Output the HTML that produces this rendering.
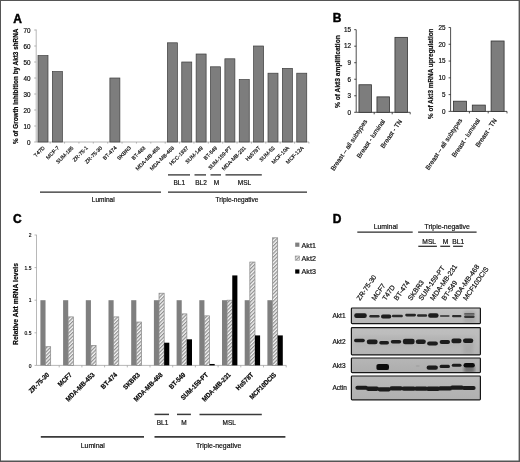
<!DOCTYPE html>
<html lang="en">
<head>
<meta charset="utf-8">
<title>Akt3 figure</title>
<style>
html,body{margin:0;padding:0;background:#fff;}
body{width:520px;height:462px;overflow:hidden;font-family:"Liberation Sans", Arial, Helvetica, sans-serif;}
svg{display:block;font-family:"Liberation Sans", Arial, Helvetica, sans-serif;}
svg text{stroke:#111;stroke-width:0.2px;}
</style>
</head>
<body>
<svg width="520" height="462" viewBox="0 0 520 462">
<defs>
<pattern id="hatch" patternUnits="userSpaceOnUse" width="2.6" height="2.6" patternTransform="rotate(-45)">
<rect width="2.6" height="2.6" fill="#f6f6f6"/>
<rect width="2.6" height="1.2" fill="#8e8e8e"/>
</pattern>
<filter id="blur" x="-5%" y="-20%" width="110%" height="140%"><feGaussianBlur stdDeviation="0.75"/></filter>
<filter id="blur2" x="-10%" y="-20%" width="120%" height="140%"><feGaussianBlur stdDeviation="1.6"/></filter>
<linearGradient id="bg1" x1="0" y1="0" x2="0" y2="1"><stop offset="0" stop-color="#c2c2c2"/><stop offset="1" stop-color="#b6b6b6"/></linearGradient>
<linearGradient id="bg2" x1="0" y1="0" x2="0" y2="1"><stop offset="0" stop-color="#bfbfbf"/><stop offset="1" stop-color="#b4b4b4"/></linearGradient>
<linearGradient id="bg3" x1="0" y1="0" x2="0" y2="1"><stop offset="0" stop-color="#b6b6b6"/><stop offset="1" stop-color="#adadad"/></linearGradient>
<linearGradient id="bg4" x1="0" y1="0" x2="0" y2="1"><stop offset="0" stop-color="#bababa"/><stop offset="1" stop-color="#b0b0b0"/></linearGradient>
</defs>
<rect x="0" y="0" width="520" height="462" fill="#fff"/>
<g id="panelA">
<text x="13.20" y="22.90" font-size="12" text-anchor="start" font-weight="700" fill="#000" style="stroke:#000;stroke-width:0.45px">A</text>
<line x1="36.20" y1="29.50" x2="36.20" y2="142.00" stroke="#999" stroke-width="0.7"/>
<line x1="36.20" y1="142.00" x2="309.00" y2="142.00" stroke="#999" stroke-width="0.7"/>
<line x1="34.20" y1="142.00" x2="36.20" y2="142.00" stroke="#999" stroke-width="0.7"/>
<text x="30.60" y="144.50" font-size="6.3" text-anchor="end" fill="#111">0</text>
<line x1="34.20" y1="126.00" x2="36.20" y2="126.00" stroke="#999" stroke-width="0.7"/>
<text x="30.60" y="128.50" font-size="6.3" text-anchor="end" fill="#111">10</text>
<line x1="34.20" y1="110.00" x2="36.20" y2="110.00" stroke="#999" stroke-width="0.7"/>
<text x="30.60" y="112.50" font-size="6.3" text-anchor="end" fill="#111">20</text>
<line x1="34.20" y1="94.00" x2="36.20" y2="94.00" stroke="#999" stroke-width="0.7"/>
<text x="30.60" y="96.50" font-size="6.3" text-anchor="end" fill="#111">30</text>
<line x1="34.20" y1="78.00" x2="36.20" y2="78.00" stroke="#999" stroke-width="0.7"/>
<text x="30.60" y="80.50" font-size="6.3" text-anchor="end" fill="#111">40</text>
<line x1="34.20" y1="62.00" x2="36.20" y2="62.00" stroke="#999" stroke-width="0.7"/>
<text x="30.60" y="64.50" font-size="6.3" text-anchor="end" fill="#111">50</text>
<line x1="34.20" y1="46.00" x2="36.20" y2="46.00" stroke="#999" stroke-width="0.7"/>
<text x="30.60" y="48.50" font-size="6.3" text-anchor="end" fill="#111">60</text>
<line x1="34.20" y1="30.00" x2="36.20" y2="30.00" stroke="#999" stroke-width="0.7"/>
<text x="30.60" y="32.50" font-size="6.3" text-anchor="end" fill="#111">70</text>
<text x="18.00" y="86.30" font-size="6.37" text-anchor="middle" font-weight="700" fill="#000" transform="rotate(-90 18.00 86.30)">% of Growth inhibition by Akt3 shRNA</text>
<rect x="38.00" y="55.60" width="10.00" height="86.40" fill="#7d7d7d" stroke="#3c3c3c" stroke-width="0.7"/>
<text x="45.20" y="148.30" font-size="5.25" text-anchor="end" fill="#111" transform="rotate(-45 45.20 148.30)">T47D</text>
<line x1="50.19" y1="142.00" x2="50.19" y2="143.60" stroke="#999" stroke-width="0.7"/>
<rect x="52.38" y="71.60" width="10.00" height="70.40" fill="#7d7d7d" stroke="#3c3c3c" stroke-width="0.7"/>
<text x="59.58" y="148.30" font-size="5.25" text-anchor="end" fill="#111" transform="rotate(-45 59.58 148.30)">MCF-7</text>
<line x1="64.56" y1="142.00" x2="64.56" y2="143.60" stroke="#999" stroke-width="0.7"/>
<text x="73.95" y="148.30" font-size="5.25" text-anchor="end" fill="#111" transform="rotate(-45 73.95 148.30)">SUM-185</text>
<line x1="78.94" y1="142.00" x2="78.94" y2="143.60" stroke="#999" stroke-width="0.7"/>
<text x="88.33" y="148.30" font-size="5.25" text-anchor="end" fill="#111" transform="rotate(-45 88.33 148.30)">ZR-75-1</text>
<line x1="93.31" y1="142.00" x2="93.31" y2="143.60" stroke="#999" stroke-width="0.7"/>
<text x="102.70" y="148.30" font-size="5.25" text-anchor="end" fill="#111" transform="rotate(-45 102.70 148.30)">ZR-75-30</text>
<line x1="107.69" y1="142.00" x2="107.69" y2="143.60" stroke="#999" stroke-width="0.7"/>
<rect x="109.88" y="78.00" width="10.00" height="64.00" fill="#7d7d7d" stroke="#3c3c3c" stroke-width="0.7"/>
<text x="117.08" y="148.30" font-size="5.25" text-anchor="end" fill="#111" transform="rotate(-45 117.08 148.30)">BT-474</text>
<line x1="122.06" y1="142.00" x2="122.06" y2="143.60" stroke="#999" stroke-width="0.7"/>
<text x="131.45" y="148.30" font-size="5.25" text-anchor="end" fill="#111" transform="rotate(-45 131.45 148.30)">SKBR3</text>
<line x1="136.44" y1="142.00" x2="136.44" y2="143.60" stroke="#999" stroke-width="0.7"/>
<text x="145.82" y="148.30" font-size="5.25" text-anchor="end" fill="#111" transform="rotate(-45 145.82 148.30)">BT-483</text>
<line x1="150.81" y1="142.00" x2="150.81" y2="143.60" stroke="#999" stroke-width="0.7"/>
<text x="160.20" y="148.30" font-size="5.25" text-anchor="end" fill="#111" transform="rotate(-45 160.20 148.30)">MDA-MB-453</text>
<line x1="165.19" y1="142.00" x2="165.19" y2="143.60" stroke="#999" stroke-width="0.7"/>
<rect x="167.38" y="42.80" width="10.00" height="99.20" fill="#7d7d7d" stroke="#3c3c3c" stroke-width="0.7"/>
<text x="174.57" y="148.30" font-size="5.25" text-anchor="end" fill="#111" transform="rotate(-45 174.57 148.30)">MDA-MB-468</text>
<line x1="179.56" y1="142.00" x2="179.56" y2="143.60" stroke="#999" stroke-width="0.7"/>
<rect x="181.75" y="62.00" width="10.00" height="80.00" fill="#7d7d7d" stroke="#3c3c3c" stroke-width="0.7"/>
<text x="188.95" y="148.30" font-size="5.25" text-anchor="end" fill="#111" transform="rotate(-45 188.95 148.30)">HCC-1937</text>
<line x1="193.94" y1="142.00" x2="193.94" y2="143.60" stroke="#999" stroke-width="0.7"/>
<rect x="196.12" y="54.00" width="10.00" height="88.00" fill="#7d7d7d" stroke="#3c3c3c" stroke-width="0.7"/>
<text x="203.32" y="148.30" font-size="5.25" text-anchor="end" fill="#111" transform="rotate(-45 203.32 148.30)">SUM-149</text>
<line x1="208.31" y1="142.00" x2="208.31" y2="143.60" stroke="#999" stroke-width="0.7"/>
<rect x="210.50" y="66.80" width="10.00" height="75.20" fill="#7d7d7d" stroke="#3c3c3c" stroke-width="0.7"/>
<text x="217.70" y="148.30" font-size="5.25" text-anchor="end" fill="#111" transform="rotate(-45 217.70 148.30)">BT-549</text>
<line x1="222.69" y1="142.00" x2="222.69" y2="143.60" stroke="#999" stroke-width="0.7"/>
<rect x="224.88" y="58.80" width="10.00" height="83.20" fill="#7d7d7d" stroke="#3c3c3c" stroke-width="0.7"/>
<text x="232.07" y="148.30" font-size="5.25" text-anchor="end" fill="#111" transform="rotate(-45 232.07 148.30)">SUM-159-PT</text>
<line x1="237.06" y1="142.00" x2="237.06" y2="143.60" stroke="#999" stroke-width="0.7"/>
<rect x="239.25" y="79.60" width="10.00" height="62.40" fill="#7d7d7d" stroke="#3c3c3c" stroke-width="0.7"/>
<text x="246.45" y="148.30" font-size="5.25" text-anchor="end" fill="#111" transform="rotate(-45 246.45 148.30)">MDA-MB-231</text>
<line x1="251.44" y1="142.00" x2="251.44" y2="143.60" stroke="#999" stroke-width="0.7"/>
<rect x="253.62" y="46.00" width="10.00" height="96.00" fill="#7d7d7d" stroke="#3c3c3c" stroke-width="0.7"/>
<text x="260.82" y="148.30" font-size="5.25" text-anchor="end" fill="#111" transform="rotate(-45 260.82 148.30)">Hs578T</text>
<line x1="265.81" y1="142.00" x2="265.81" y2="143.60" stroke="#999" stroke-width="0.7"/>
<rect x="268.00" y="73.20" width="10.00" height="68.80" fill="#7d7d7d" stroke="#3c3c3c" stroke-width="0.7"/>
<text x="275.20" y="148.30" font-size="5.25" text-anchor="end" fill="#111" transform="rotate(-45 275.20 148.30)">SUM-52</text>
<line x1="280.19" y1="142.00" x2="280.19" y2="143.60" stroke="#999" stroke-width="0.7"/>
<rect x="282.38" y="68.40" width="10.00" height="73.60" fill="#7d7d7d" stroke="#3c3c3c" stroke-width="0.7"/>
<text x="289.57" y="148.30" font-size="5.25" text-anchor="end" fill="#111" transform="rotate(-45 289.57 148.30)">MCF-10A</text>
<line x1="294.56" y1="142.00" x2="294.56" y2="143.60" stroke="#999" stroke-width="0.7"/>
<rect x="296.75" y="73.20" width="10.00" height="68.80" fill="#7d7d7d" stroke="#3c3c3c" stroke-width="0.7"/>
<text x="303.95" y="148.30" font-size="5.25" text-anchor="end" fill="#111" transform="rotate(-45 303.95 148.30)">MCF-12A</text>
<line x1="308.94" y1="142.00" x2="308.94" y2="143.60" stroke="#999" stroke-width="0.7"/>
<line x1="40.00" y1="192.10" x2="161.00" y2="192.10" stroke="#2a2a2a" stroke-width="1.25"/>
<text x="103.20" y="201.80" font-size="6.5" text-anchor="middle" fill="#111">Luminal</text>
<line x1="168.00" y1="192.10" x2="307.00" y2="192.10" stroke="#2a2a2a" stroke-width="1.25"/>
<text x="237.00" y="201.80" font-size="6.5" text-anchor="middle" fill="#111">Triple-negative</text>
<line x1="168.00" y1="174.90" x2="190.00" y2="174.90" stroke="#2a2a2a" stroke-width="1.25"/>
<text x="179.30" y="184.90" font-size="6.5" text-anchor="middle" fill="#111">BL1</text>
<line x1="194.50" y1="174.90" x2="206.00" y2="174.90" stroke="#2a2a2a" stroke-width="1.25"/>
<text x="201.00" y="184.90" font-size="6.5" text-anchor="middle" fill="#111">BL2</text>
<line x1="210.50" y1="174.90" x2="221.00" y2="174.90" stroke="#2a2a2a" stroke-width="1.25"/>
<text x="216.50" y="184.90" font-size="6.5" text-anchor="middle" fill="#111">M</text>
<line x1="225.50" y1="174.90" x2="261.80" y2="174.90" stroke="#2a2a2a" stroke-width="1.25"/>
<text x="244.50" y="184.90" font-size="6.5" text-anchor="middle" fill="#111">MSL</text>
</g>
<g id="panelB">
<text x="332.80" y="21.90" font-size="12" text-anchor="start" font-weight="700" fill="#000" style="stroke:#000;stroke-width:0.45px">B</text>
<line x1="356.20" y1="29.70" x2="356.20" y2="112.30" stroke="#222" stroke-width="0.8"/>
<line x1="356.20" y1="112.30" x2="410.20" y2="112.30" stroke="#222" stroke-width="0.8"/>
<line x1="354.20" y1="112.30" x2="356.20" y2="112.30" stroke="#222" stroke-width="0.8"/>
<text x="351.00" y="114.60" font-size="6.3" text-anchor="end" fill="#111">0</text>
<line x1="354.20" y1="95.77" x2="356.20" y2="95.77" stroke="#222" stroke-width="0.8"/>
<text x="351.00" y="98.07" font-size="6.3" text-anchor="end" fill="#111">3</text>
<line x1="354.20" y1="79.24" x2="356.20" y2="79.24" stroke="#222" stroke-width="0.8"/>
<text x="351.00" y="81.54" font-size="6.3" text-anchor="end" fill="#111">6</text>
<line x1="354.20" y1="62.71" x2="356.20" y2="62.71" stroke="#222" stroke-width="0.8"/>
<text x="351.00" y="65.01" font-size="6.3" text-anchor="end" fill="#111">9</text>
<line x1="354.20" y1="46.18" x2="356.20" y2="46.18" stroke="#222" stroke-width="0.8"/>
<text x="351.00" y="48.48" font-size="6.3" text-anchor="end" fill="#111">12</text>
<line x1="354.20" y1="29.65" x2="356.20" y2="29.65" stroke="#222" stroke-width="0.8"/>
<text x="351.00" y="31.95" font-size="6.3" text-anchor="end" fill="#111">15</text>
<line x1="374.20" y1="112.30" x2="374.20" y2="114.30" stroke="#222" stroke-width="0.8"/>
<line x1="392.20" y1="112.30" x2="392.20" y2="114.30" stroke="#222" stroke-width="0.8"/>
<line x1="410.20" y1="112.30" x2="410.20" y2="114.30" stroke="#222" stroke-width="0.8"/>
<rect x="358.95" y="84.75" width="12.50" height="27.55" fill="#7d7d7d" stroke="#333" stroke-width="0.8"/>
<text x="367.70" y="121.30" font-size="6.5" text-anchor="end" fill="#111" transform="rotate(-56 367.70 121.30)">Breast – all subtypes</text>
<rect x="376.95" y="96.87" width="12.50" height="15.43" fill="#7d7d7d" stroke="#333" stroke-width="0.8"/>
<text x="385.30" y="121.30" font-size="6.5" text-anchor="end" fill="#111" transform="rotate(-56 385.30 121.30)">Breast - luminal</text>
<rect x="394.95" y="37.36" width="12.50" height="74.94" fill="#7d7d7d" stroke="#333" stroke-width="0.8"/>
<text x="402.30" y="121.30" font-size="6.5" text-anchor="end" fill="#111" transform="rotate(-56 402.30 121.30)">Breast - TN</text>
<text x="340.20" y="71.60" font-size="6.65" text-anchor="middle" font-weight="700" fill="#111" transform="rotate(-90 340.20 71.60)">% of Akt3 amplification</text>
<line x1="450.60" y1="27.50" x2="450.60" y2="111.40" stroke="#222" stroke-width="0.8"/>
<line x1="450.60" y1="111.40" x2="507.00" y2="111.40" stroke="#222" stroke-width="0.8"/>
<line x1="448.60" y1="111.40" x2="450.60" y2="111.40" stroke="#222" stroke-width="0.8"/>
<text x="445.40" y="113.70" font-size="6.3" text-anchor="end" fill="#111">0</text>
<line x1="448.60" y1="94.62" x2="450.60" y2="94.62" stroke="#222" stroke-width="0.8"/>
<text x="445.40" y="96.92" font-size="6.3" text-anchor="end" fill="#111">5</text>
<line x1="448.60" y1="77.84" x2="450.60" y2="77.84" stroke="#222" stroke-width="0.8"/>
<text x="445.40" y="80.14" font-size="6.3" text-anchor="end" fill="#111">10</text>
<line x1="448.60" y1="61.06" x2="450.60" y2="61.06" stroke="#222" stroke-width="0.8"/>
<text x="445.40" y="63.36" font-size="6.3" text-anchor="end" fill="#111">15</text>
<line x1="448.60" y1="44.28" x2="450.60" y2="44.28" stroke="#222" stroke-width="0.8"/>
<text x="445.40" y="46.58" font-size="6.3" text-anchor="end" fill="#111">20</text>
<line x1="448.60" y1="27.50" x2="450.60" y2="27.50" stroke="#222" stroke-width="0.8"/>
<text x="445.40" y="29.80" font-size="6.3" text-anchor="end" fill="#111">25</text>
<line x1="469.40" y1="111.40" x2="469.40" y2="113.40" stroke="#222" stroke-width="0.8"/>
<line x1="488.20" y1="111.40" x2="488.20" y2="113.40" stroke="#222" stroke-width="0.8"/>
<line x1="507.00" y1="111.40" x2="507.00" y2="113.40" stroke="#222" stroke-width="0.8"/>
<rect x="453.50" y="101.20" width="13.00" height="10.20" fill="#7d7d7d" stroke="#333" stroke-width="0.8"/>
<text x="462.50" y="120.40" font-size="6.5" text-anchor="end" fill="#111" transform="rotate(-56 462.50 120.40)">Breast – all subtypes</text>
<rect x="472.30" y="105.09" width="13.00" height="6.31" fill="#7d7d7d" stroke="#333" stroke-width="0.8"/>
<text x="480.30" y="120.40" font-size="6.5" text-anchor="end" fill="#111" transform="rotate(-56 480.30 120.40)">Breast - luminal</text>
<rect x="491.10" y="40.99" width="13.00" height="70.41" fill="#7d7d7d" stroke="#333" stroke-width="0.8"/>
<text x="497.20" y="120.40" font-size="6.5" text-anchor="end" fill="#111" transform="rotate(-56 497.20 120.40)">Breast - TN</text>
<text x="433.20" y="73.70" font-size="6.4" text-anchor="middle" font-weight="700" fill="#111" transform="rotate(-90 433.20 73.70)">% of Akt3 mRNA upregulation</text>
</g>
<g id="panelC">
<text x="13.00" y="222.90" font-size="12" text-anchor="start" font-weight="700" fill="#000" style="stroke:#000;stroke-width:0.45px">C</text>
<line x1="36.50" y1="234.80" x2="36.50" y2="365.40" stroke="#999" stroke-width="0.7"/>
<line x1="36.50" y1="365.40" x2="286.30" y2="365.40" stroke="#999" stroke-width="0.7"/>
<line x1="34.50" y1="365.40" x2="36.50" y2="365.40" stroke="#999" stroke-width="0.7"/>
<text x="31.50" y="367.60" font-size="5.4" text-anchor="end" fill="#111" transform="translate(31.50 367.60) scale(0.92 1) translate(-31.50 -367.60)">0</text>
<line x1="34.50" y1="332.80" x2="36.50" y2="332.80" stroke="#999" stroke-width="0.7"/>
<text x="31.50" y="335.00" font-size="5.4" text-anchor="end" fill="#111" transform="translate(31.50 335.00) scale(0.92 1) translate(-31.50 -335.00)">0.5</text>
<line x1="34.50" y1="300.20" x2="36.50" y2="300.20" stroke="#999" stroke-width="0.7"/>
<text x="31.50" y="302.40" font-size="5.4" text-anchor="end" fill="#111" transform="translate(31.50 302.40) scale(0.92 1) translate(-31.50 -302.40)">1</text>
<line x1="34.50" y1="267.60" x2="36.50" y2="267.60" stroke="#999" stroke-width="0.7"/>
<text x="31.50" y="269.80" font-size="5.4" text-anchor="end" fill="#111" transform="translate(31.50 269.80) scale(0.92 1) translate(-31.50 -269.80)">1.5</text>
<line x1="34.50" y1="235.00" x2="36.50" y2="235.00" stroke="#999" stroke-width="0.7"/>
<text x="31.50" y="237.20" font-size="5.4" text-anchor="end" fill="#111" transform="translate(31.50 237.20) scale(0.92 1) translate(-31.50 -237.20)">2</text>
<text x="18.40" y="304.00" font-size="6.8" text-anchor="middle" font-weight="700" fill="#000" transform="rotate(-90 18.40 304.00)">Relative Akt mRNA levels</text>
<line x1="59.20" y1="365.40" x2="59.20" y2="367.40" stroke="#999" stroke-width="0.7"/>
<rect x="40.40" y="300.20" width="5.13" height="65.20" fill="#7f7f7f"/>
<rect x="45.53" y="346.69" width="5.13" height="18.71" fill="url(#hatch)" stroke="#8c8c8c" stroke-width="0.75"/>
<text x="49.70" y="375.30" font-size="6.8" text-anchor="end" font-weight="700" fill="#000" transform="rotate(-45 49.70 375.30) translate(49.70 375.30) scale(0.9 1) translate(-49.70 -375.30)">ZR-75-30</text>
<line x1="81.90" y1="365.40" x2="81.90" y2="367.40" stroke="#999" stroke-width="0.7"/>
<rect x="63.10" y="300.20" width="5.13" height="65.20" fill="#7f7f7f"/>
<rect x="68.23" y="316.89" width="5.13" height="48.51" fill="url(#hatch)" stroke="#8c8c8c" stroke-width="0.75"/>
<text x="72.39" y="375.30" font-size="6.8" text-anchor="end" font-weight="700" fill="#000" transform="rotate(-45 72.39 375.30) translate(72.39 375.30) scale(0.9 1) translate(-72.39 -375.30)">MCF7</text>
<line x1="104.60" y1="365.40" x2="104.60" y2="367.40" stroke="#999" stroke-width="0.7"/>
<rect x="85.80" y="300.20" width="5.13" height="65.20" fill="#7f7f7f"/>
<rect x="90.93" y="345.38" width="5.13" height="20.02" fill="url(#hatch)" stroke="#8c8c8c" stroke-width="0.75"/>
<text x="95.09" y="375.30" font-size="6.8" text-anchor="end" font-weight="700" fill="#000" transform="rotate(-45 95.09 375.30) translate(95.09 375.30) scale(0.9 1) translate(-95.09 -375.30)">MDA-MB-453</text>
<line x1="127.30" y1="365.40" x2="127.30" y2="367.40" stroke="#999" stroke-width="0.7"/>
<rect x="108.50" y="300.20" width="5.13" height="65.20" fill="#7f7f7f"/>
<rect x="113.63" y="316.89" width="5.13" height="48.51" fill="url(#hatch)" stroke="#8c8c8c" stroke-width="0.75"/>
<text x="117.79" y="375.30" font-size="6.8" text-anchor="end" font-weight="700" fill="#000" transform="rotate(-45 117.79 375.30) translate(117.79 375.30) scale(0.9 1) translate(-117.79 -375.30)">BT-474</text>
<line x1="150.00" y1="365.40" x2="150.00" y2="367.40" stroke="#999" stroke-width="0.7"/>
<rect x="131.20" y="300.20" width="5.13" height="65.20" fill="#7f7f7f"/>
<rect x="136.33" y="322.04" width="5.13" height="43.36" fill="url(#hatch)" stroke="#8c8c8c" stroke-width="0.75"/>
<text x="140.49" y="375.30" font-size="6.8" text-anchor="end" font-weight="700" fill="#000" transform="rotate(-45 140.49 375.30) translate(140.49 375.30) scale(0.9 1) translate(-140.49 -375.30)">SKBR3</text>
<line x1="172.70" y1="365.40" x2="172.70" y2="367.40" stroke="#999" stroke-width="0.7"/>
<rect x="153.90" y="300.20" width="5.13" height="65.20" fill="#7f7f7f"/>
<rect x="159.03" y="293.22" width="5.13" height="72.18" fill="url(#hatch)" stroke="#8c8c8c" stroke-width="0.75"/>
<rect x="164.16" y="342.71" width="5.13" height="22.69" fill="#000"/>
<text x="163.19" y="375.30" font-size="6.8" text-anchor="end" font-weight="700" fill="#000" transform="rotate(-45 163.19 375.30) translate(163.19 375.30) scale(0.9 1) translate(-163.19 -375.30)">MDA-MB-468</text>
<line x1="195.40" y1="365.40" x2="195.40" y2="367.40" stroke="#999" stroke-width="0.7"/>
<rect x="176.60" y="300.20" width="5.13" height="65.20" fill="#7f7f7f"/>
<rect x="181.73" y="313.89" width="5.13" height="51.51" fill="url(#hatch)" stroke="#8c8c8c" stroke-width="0.75"/>
<rect x="186.86" y="339.32" width="5.13" height="26.08" fill="#000"/>
<text x="185.89" y="375.30" font-size="6.8" text-anchor="end" font-weight="700" fill="#000" transform="rotate(-45 185.89 375.30) translate(185.89 375.30) scale(0.9 1) translate(-185.89 -375.30)">BT-549</text>
<line x1="218.10" y1="365.40" x2="218.10" y2="367.40" stroke="#999" stroke-width="0.7"/>
<rect x="199.30" y="300.20" width="5.13" height="65.20" fill="#7f7f7f"/>
<rect x="204.43" y="315.85" width="5.13" height="49.55" fill="url(#hatch)" stroke="#8c8c8c" stroke-width="0.75"/>
<rect x="209.56" y="363.97" width="5.13" height="1.43" fill="#000"/>
<text x="208.59" y="375.30" font-size="6.8" text-anchor="end" font-weight="700" fill="#000" transform="rotate(-45 208.59 375.30) translate(208.59 375.30) scale(0.9 1) translate(-208.59 -375.30)">SUM-159-PT</text>
<line x1="240.80" y1="365.40" x2="240.80" y2="367.40" stroke="#999" stroke-width="0.7"/>
<rect x="222.00" y="300.20" width="5.13" height="65.20" fill="#7f7f7f"/>
<rect x="227.13" y="300.20" width="5.13" height="65.20" fill="url(#hatch)" stroke="#8c8c8c" stroke-width="0.75"/>
<rect x="232.26" y="275.42" width="5.13" height="89.98" fill="#000"/>
<text x="231.29" y="375.30" font-size="6.8" text-anchor="end" font-weight="700" fill="#000" transform="rotate(-45 231.29 375.30) translate(231.29 375.30) scale(0.9 1) translate(-231.29 -375.30)">MDA-MB-231</text>
<line x1="263.50" y1="365.40" x2="263.50" y2="367.40" stroke="#999" stroke-width="0.7"/>
<rect x="244.70" y="300.20" width="5.13" height="65.20" fill="#7f7f7f"/>
<rect x="249.83" y="262.06" width="5.13" height="103.34" fill="url(#hatch)" stroke="#8c8c8c" stroke-width="0.75"/>
<rect x="254.96" y="335.41" width="5.13" height="29.99" fill="#000"/>
<text x="253.99" y="375.30" font-size="6.8" text-anchor="end" font-weight="700" fill="#000" transform="rotate(-45 253.99 375.30) translate(253.99 375.30) scale(0.9 1) translate(-253.99 -375.30)">Hs578T</text>
<line x1="286.20" y1="365.40" x2="286.20" y2="367.40" stroke="#999" stroke-width="0.7"/>
<rect x="267.40" y="300.20" width="5.13" height="65.20" fill="#7f7f7f"/>
<rect x="272.53" y="237.80" width="5.13" height="127.60" fill="url(#hatch)" stroke="#8c8c8c" stroke-width="0.75"/>
<rect x="277.66" y="335.41" width="5.13" height="29.99" fill="#000"/>
<text x="276.69" y="375.30" font-size="6.8" text-anchor="end" font-weight="700" fill="#000" transform="rotate(-45 276.69 375.30) translate(276.69 375.30) scale(0.9 1) translate(-276.69 -375.30)">MCF10DCIS</text>
<rect x="295.20" y="242.60" width="4.20" height="4.20" fill="#7f7f7f"/>
<text x="301.60" y="247.70" font-size="7.6" text-anchor="start" fill="#111" transform="translate(301.60 247.70) scale(0.94 1) translate(-301.60 -247.70)">Akt1</text>
<rect x="295.20" y="256.00" width="4.20" height="4.20" fill="url(#hatch)" stroke="#8c8c8c" stroke-width="0.6"/>
<text x="301.60" y="261.10" font-size="7.6" text-anchor="start" fill="#111" transform="translate(301.60 261.10) scale(0.94 1) translate(-301.60 -261.10)">Akt2</text>
<rect x="295.20" y="269.40" width="4.20" height="4.20" fill="#000"/>
<text x="301.60" y="274.50" font-size="7.6" text-anchor="start" fill="#111" transform="translate(301.60 274.50) scale(0.94 1) translate(-301.60 -274.50)">Akt3</text>
<line x1="40.80" y1="436.90" x2="144.00" y2="436.90" stroke="#3a3a3a" stroke-width="1.6"/>
<text x="92.80" y="447.60" font-size="6.9" text-anchor="middle" fill="#111">Luminal</text>
<line x1="154.50" y1="436.90" x2="285.40" y2="436.90" stroke="#3a3a3a" stroke-width="1.6"/>
<text x="218.60" y="447.60" font-size="6.9" text-anchor="middle" fill="#111">Triple-negative</text>
<line x1="154.50" y1="414.40" x2="169.00" y2="414.40" stroke="#3a3a3a" stroke-width="1.5"/>
<text x="162.50" y="425.00" font-size="6.5" text-anchor="middle" fill="#111">BL1</text>
<line x1="177.00" y1="414.40" x2="190.90" y2="414.40" stroke="#3a3a3a" stroke-width="1.5"/>
<text x="184.00" y="425.00" font-size="6.5" text-anchor="middle" fill="#111">M</text>
<line x1="199.50" y1="414.40" x2="261.80" y2="414.40" stroke="#3a3a3a" stroke-width="1.5"/>
<text x="229.30" y="425.00" font-size="6.5" text-anchor="middle" fill="#111">MSL</text>
</g>
<g id="panelD">
<text x="332.80" y="223.40" font-size="12" text-anchor="start" font-weight="700" fill="#000" style="stroke:#000;stroke-width:0.45px">D</text>
<text x="385.70" y="229.00" font-size="6.9" text-anchor="middle" fill="#111">Luminal</text>
<line x1="357.30" y1="232.20" x2="412.70" y2="232.20" stroke="#2a2a2a" stroke-width="1.25"/>
<text x="447.20" y="229.00" font-size="6.9" text-anchor="middle" fill="#111">Triple-negative</text>
<line x1="418.10" y1="232.20" x2="476.60" y2="232.20" stroke="#2a2a2a" stroke-width="1.25"/>
<text x="429.20" y="243.80" font-size="6.7" text-anchor="middle" fill="#111">MSL</text>
<line x1="418.30" y1="246.30" x2="436.90" y2="246.30" stroke="#2a2a2a" stroke-width="1.25"/>
<text x="445.50" y="243.80" font-size="6.7" text-anchor="middle" fill="#111">M</text>
<line x1="440.30" y1="246.30" x2="450.10" y2="246.30" stroke="#2a2a2a" stroke-width="1.25"/>
<text x="458.30" y="243.80" font-size="6.7" text-anchor="middle" fill="#111">BL1</text>
<line x1="453.10" y1="246.30" x2="462.80" y2="246.30" stroke="#2a2a2a" stroke-width="1.25"/>
<text x="360.10" y="300.90" font-size="6.9" text-anchor="start" fill="#111" transform="rotate(-55 360.10 300.90)">ZR-75-30</text>
<text x="375.00" y="300.90" font-size="6.9" text-anchor="start" fill="#111" transform="rotate(-55 375.00 300.90)">MCF7</text>
<text x="385.70" y="300.90" font-size="6.9" text-anchor="start" fill="#111" transform="rotate(-55 385.70 300.90)">T47D</text>
<text x="397.30" y="300.90" font-size="6.9" text-anchor="start" fill="#111" transform="rotate(-55 397.30 300.90)">BT-474</text>
<text x="411.30" y="300.90" font-size="6.9" text-anchor="start" fill="#111" transform="rotate(-55 411.30 300.90)">SKBR3</text>
<text x="422.00" y="300.90" font-size="6.9" text-anchor="start" fill="#111" transform="rotate(-55 422.00 300.90)">SUM-159-PT</text>
<text x="433.60" y="300.90" font-size="6.9" text-anchor="start" fill="#111" transform="rotate(-55 433.60 300.90)">MDA-MB-231</text>
<text x="445.00" y="300.90" font-size="6.9" text-anchor="start" fill="#111" transform="rotate(-55 445.00 300.90)">BT-549</text>
<text x="455.70" y="300.90" font-size="6.9" text-anchor="start" fill="#111" transform="rotate(-55 455.70 300.90)">MDA-MB-468</text>
<text x="466.50" y="300.90" font-size="6.9" text-anchor="start" fill="#111" transform="rotate(-55 466.50 300.90)">MCF10DCIS</text>
<defs>
<clipPath id="clip_Akt1"><rect x="351.79999999999995" y="308.4" width="128.2" height="14.800000000000022"/></clipPath>
<clipPath id="clip_Akt2"><rect x="351.79999999999995" y="328.0" width="128.2" height="26.499999999999954"/></clipPath>
<clipPath id="clip_Akt3"><rect x="351.79999999999995" y="358.4" width="128.2" height="13.800000000000022"/></clipPath>
<clipPath id="clip_Actin"><rect x="351.79999999999995" y="376.4" width="128.2" height="23.00000000000001"/></clipPath>
</defs>
<rect x="351.40" y="308.00" width="129.00" height="15.60" fill="url(#bg1)" rx="0.8"/>
<g clip-path="url(#clip_Akt1)">
<g filter="url(#blur2)">
<rect x="464.00" y="311.00" width="11.00" height="12.00" fill="#9a9a9a" opacity="0.5"/>
</g>
<g filter="url(#blur)">
<rect x="354.20" y="313.30" width="12.60" height="4.70" rx="2.20" fill="#1c1c1c" opacity="1"/>
<rect x="369.30" y="314.90" width="10.30" height="2.50" rx="1.25" fill="#1c1c1c" opacity="0.92"/>
<rect x="381.00" y="314.60" width="10.30" height="3.80" rx="1.90" fill="#1c1c1c" opacity="1"/>
<rect x="391.90" y="314.70" width="11.00" height="2.60" rx="1.30" fill="#1c1c1c" opacity="0.92"/>
<rect x="405.20" y="313.70" width="10.80" height="2.80" rx="1.40" fill="#1c1c1c" opacity="0.95"/>
<rect x="417.00" y="314.20" width="10.10" height="2.50" rx="1.25" fill="#1c1c1c" opacity="0.92"/>
<rect x="428.10" y="313.30" width="10.50" height="4.40" rx="2.20" fill="#1c1c1c" opacity="1"/>
<rect x="439.90" y="315.00" width="9.70" height="2.00" rx="1.00" fill="#333" opacity="0.8"/>
<rect x="452.00" y="314.90" width="9.50" height="2.40" rx="1.20" fill="#1c1c1c" opacity="0.9"/>
<rect x="464.10" y="313.00" width="10.50" height="1.80" rx="0.90" fill="#444" opacity="0.75"/>
<rect x="464.10" y="315.60" width="10.50" height="2.40" rx="1.20" fill="#2a2a2a" opacity="0.9"/>
</g></g>
<rect x="351.40" y="308.00" width="129.00" height="15.60" fill="none" stroke="#161616" stroke-width="1.2" rx="0.8"/>
<text x="332.50" y="318.20" font-size="6.5" text-anchor="start" fill="#111">Akt1</text>
<rect x="351.40" y="327.60" width="129.00" height="27.30" fill="url(#bg2)" rx="0.8"/>
<g clip-path="url(#clip_Akt2)">
<g filter="url(#blur2)">
<rect x="463.50" y="343.00" width="9.50" height="11.00" fill="#9a9a9a" opacity="0.45"/>
<rect x="354.00" y="336.00" width="121.00" height="11.00" fill="#a8a8a8" opacity="0.35"/>
</g>
<g filter="url(#blur)">
<rect x="354.00" y="338.80" width="10.80" height="3.50" rx="1.75" fill="#1c1c1c" opacity="1"/>
<rect x="366.80" y="339.40" width="10.80" height="4.90" rx="2.20" fill="#1c1c1c" opacity="1"/>
<rect x="379.20" y="341.10" width="9.80" height="3.50" rx="1.75" fill="#1c1c1c" opacity="1"/>
<rect x="390.80" y="340.10" width="10.40" height="3.50" rx="1.75" fill="#1c1c1c" opacity="1"/>
<rect x="402.90" y="338.80" width="11.70" height="5.50" rx="2.20" fill="#1c1c1c" opacity="1"/>
<rect x="415.80" y="339.40" width="10.00" height="4.60" rx="2.20" fill="#1c1c1c" opacity="1"/>
<rect x="427.10" y="341.40" width="10.80" height="4.10" rx="2.05" fill="#1c1c1c" opacity="1"/>
<rect x="439.60" y="340.00" width="10.40" height="4.00" rx="2.00" fill="#1c1c1c" opacity="1"/>
<rect x="451.40" y="338.40" width="10.10" height="4.80" rx="2.20" fill="#1c1c1c" opacity="1"/>
<rect x="463.00" y="338.40" width="10.30" height="4.60" rx="2.20" fill="#1c1c1c" opacity="1"/>
</g></g>
<rect x="351.40" y="327.60" width="129.00" height="27.30" fill="none" stroke="#161616" stroke-width="1.2" rx="0.8"/>
<text x="332.50" y="343.65" font-size="6.5" text-anchor="start" fill="#111">Akt2</text>
<rect x="351.40" y="358.00" width="129.00" height="14.60" fill="url(#bg3)" rx="0.8"/>
<g clip-path="url(#clip_Akt3)">
<g filter="url(#blur2)">
<rect x="464.00" y="366.00" width="10.50" height="6.50" fill="#555" opacity="0.7"/>
</g>
<g filter="url(#blur)">
<rect x="376.40" y="363.90" width="12.60" height="6.20" rx="2.20" fill="#0c0c0c" opacity="1"/>
<rect x="426.60" y="365.50" width="11.30" height="4.30" rx="2.15" fill="#1c1c1c" opacity="1"/>
<rect x="439.60" y="364.80" width="10.40" height="3.30" rx="1.65" fill="#1c1c1c" opacity="1"/>
<rect x="451.80" y="363.80" width="9.70" height="3.00" rx="1.50" fill="#1c1c1c" opacity="1"/>
<rect x="463.50" y="363.00" width="11.40" height="4.50" rx="2.20" fill="#101010" opacity="1"/>
<rect x="415.70" y="365.30" width="4.00" height="1.50" rx="0.75" fill="#888" opacity="0.3"/>
</g></g>
<rect x="351.40" y="358.00" width="129.00" height="14.60" fill="none" stroke="#161616" stroke-width="1.2" rx="0.8"/>
<text x="332.50" y="367.70" font-size="6.5" text-anchor="start" fill="#111">Akt3</text>
<rect x="351.40" y="376.00" width="129.00" height="23.80" fill="url(#bg4)" rx="0.8"/>
<g clip-path="url(#clip_Actin)">
<g filter="url(#blur2)">
</g>
<g filter="url(#blur)">
<rect x="355.40" y="385.80" width="12.60" height="4.00" rx="2.00" fill="#1c1c1c" opacity="1"/>
<rect x="366.00" y="386.60" width="13.00" height="4.30" rx="2.15" fill="#1c1c1c" opacity="1"/>
<rect x="377.50" y="387.20" width="13.50" height="4.20" rx="2.10" fill="#1c1c1c" opacity="1"/>
<rect x="389.50" y="386.20" width="13.50" height="4.20" rx="2.10" fill="#1c1c1c" opacity="1"/>
<rect x="401.50" y="386.40" width="14.50" height="4.40" rx="2.20" fill="#1c1c1c" opacity="1"/>
<rect x="414.00" y="386.40" width="14.00" height="4.40" rx="2.20" fill="#1c1c1c" opacity="1"/>
<rect x="426.00" y="386.50" width="14.00" height="4.40" rx="2.20" fill="#1c1c1c" opacity="1"/>
<rect x="438.00" y="386.20" width="14.00" height="4.40" rx="2.20" fill="#1c1c1c" opacity="1"/>
<rect x="450.00" y="385.50" width="14.00" height="4.30" rx="2.15" fill="#1c1c1c" opacity="1"/>
<rect x="462.00" y="386.00" width="13.60" height="4.00" rx="2.00" fill="#1c1c1c" opacity="1"/>
</g></g>
<rect x="351.40" y="376.00" width="129.00" height="23.80" fill="none" stroke="#161616" stroke-width="1.2" rx="0.8"/>
<text x="332.50" y="390.30" font-size="6.5" text-anchor="start" fill="#111">Actin</text>
</g>
<path d="M0 0.5H520M0.5 0V462" stroke="#555" stroke-width="1" fill="none"/>
<path d="M519.3 0V462" stroke="#555" stroke-width="1.4" fill="none"/>
<path d="M0 461.3H520" stroke="#555" stroke-width="1.4" fill="none"/>
</svg>
</body>
</html>
